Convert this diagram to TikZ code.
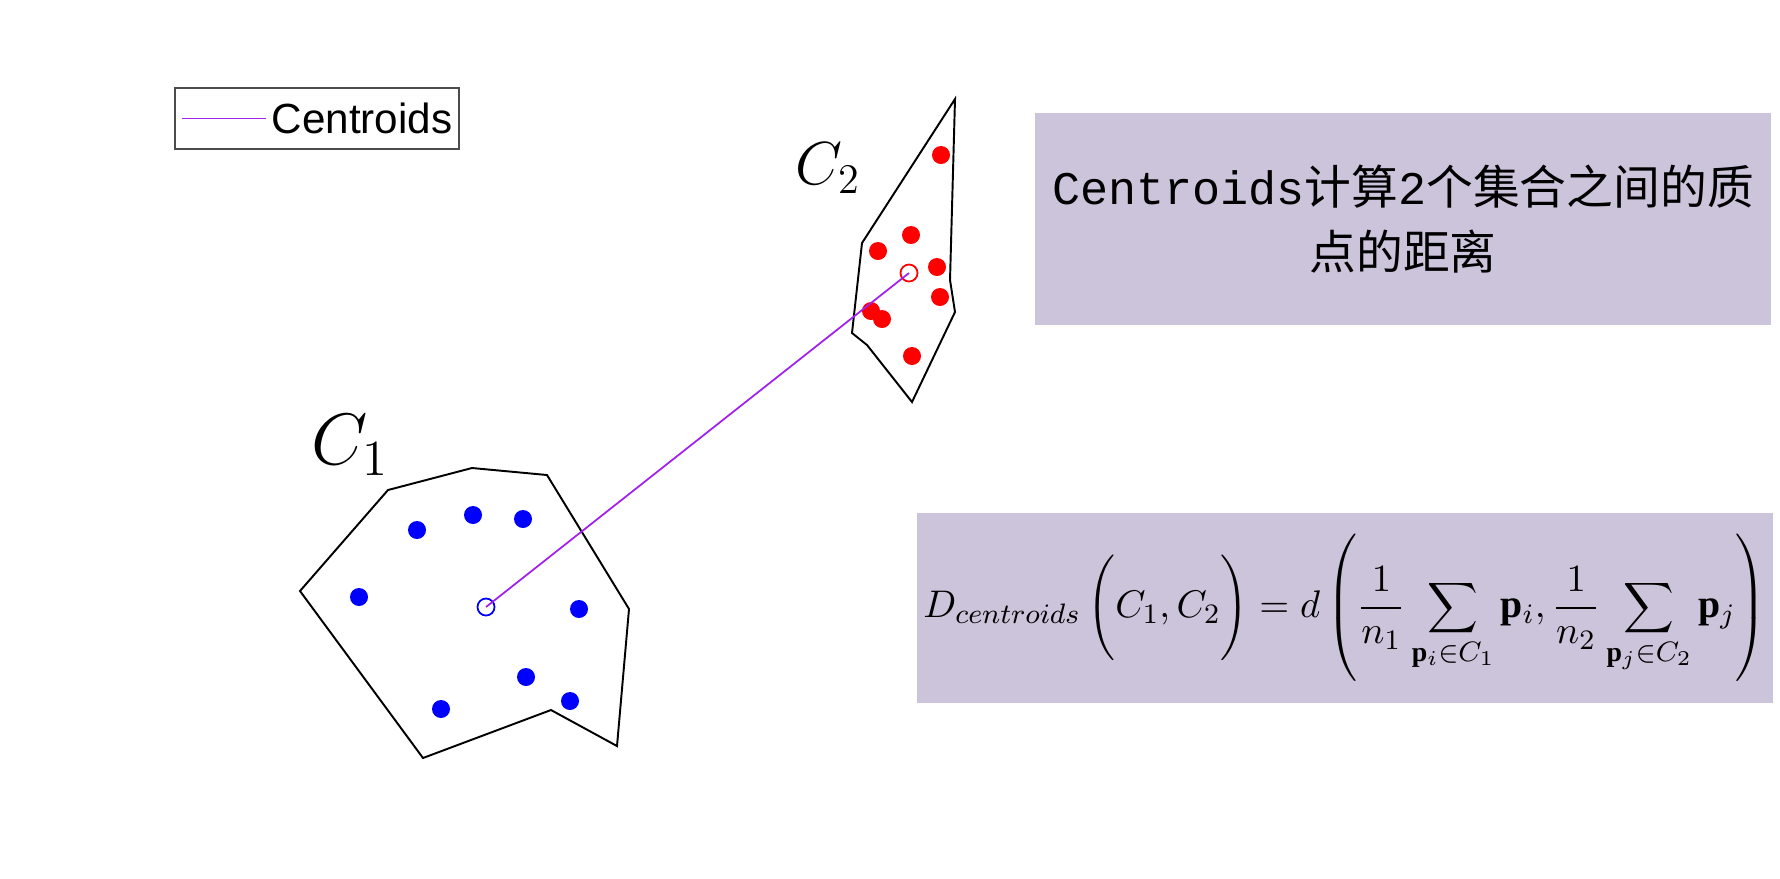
\documentclass[tikz,border=0pt]{standalone}
\usepackage{fontspec}
\setmainfont{Liberation Serif}
\setsansfont{Liberation Sans}
\setmonofont{Liberation Mono}
\newfontfamily\cjk{Noto Sans CJK SC}
\usetikzlibrary{positioning}
\definecolor{boxbg}{RGB}{204,196,218}
\definecolor{cpurple}{RGB}{160,32,240}
\tikzset{
  pt/.style={circle, fill, inner sep=0pt, minimum size=0.18cm},
  ctr/.style={circle, draw, inner sep=0pt, minimum size=0.17cm, line width=0.5pt},
  hull/.style={draw=black, line width=0.55pt},
  note/.style={fill=boxbg, inner sep=0pt, align=center},
}
\begin{document}
\begin{tikzpicture}[x=0.01cm, y=-0.01cm]
    \useasboundingbox (0,0) rectangle (1780,878);
    \node[draw=black!70, line width=0.5pt, minimum width=2.84cm, minimum height=0.61cm] at (317,118.5) (legend) {};
    \draw[cpurple, line width=0.5pt] (legend.west) ++(8,0) coordinate (lgA) -- ++(84,0) coordinate (lgB);
    \node[right=0.05cm of lgB, inner sep=0pt, font=\sffamily\fontsize{12}{14}\selectfont] (lgtext) {Centroids};
    \draw[hull] (300,591) -- (388,490) -- (472,468) -- (547,475) -- (629,609) -- (617,746) -- (551,710) -- (423,758) -- cycle;
    \draw[hull] (955,99) -- (950,280) -- (955,312) -- (912,402) -- (867,345) -- (852,333) -- (862,243) -- cycle;
    \foreach \x/\y [count=\i] in {417/530, 473/515, 523/519, 359/597, 579/609, 526/677, 441/709, 570/701}
        \node[pt, blue] (b\i) at (\x,\y) {};
    \foreach \x/\y [count=\i] in {941/155, 911/235, 878/251, 937/267, 940/297, 871/311, 882/319, 912/356}
        \node[pt, red] (r\i) at (\x,\y) {};
    \node[ctr, blue] (cb) at (486,607) {};
    \node[ctr, red] (cr) at (909,273) {};
    \draw[cpurple, line width=0.5pt] (cb.center) -- (cr.center);
    \node[font=\fontsize{21}{21}\selectfont] (lc1) at (350,445) {$C_1$};
    \node[font=\fontsize{18}{18}\selectfont] (lc2) at (828,168) {$C_2$};
    \node[note, minimum width=7.36cm, minimum height=2.12cm, font=\fontsize{13.3}{18.4}\selectfont] at (1403,219) (desc)
        {{\ttfamily Centroids}{\cjk 计算}{\ttfamily 2}{\cjk 个集合之间的质}\\{\cjk 点的距离}};
    \node[note, minimum width=8.55cm, minimum height=1.90cm, font=\fontsize{11.3}{14}\selectfont] at (1345,608) (formula)
        {$\displaystyle D_{centroids}\left(\rule[-0.39cm]{0pt}{0.98cm}C_1,C_2\right)=d\left(\rule[-0.72cm]{0pt}{1.63cm}\frac{1}{n_1}\sum_{\mathbf{p}_i\in C_1}\mathbf{p}_i,\frac{1}{n_2}\sum_{\mathbf{p}_j\in C_2}\mathbf{p}_j\right)$};
\end{tikzpicture}
\end{document}
